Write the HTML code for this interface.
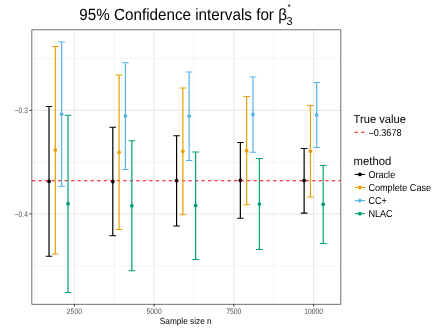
<!DOCTYPE html>
<html><head><meta charset="utf-8"><style>
html,body{margin:0;padding:0;background:#fff;}
svg{display:block;font-family:"Liberation Sans",Arial,sans-serif;text-rendering:geometricPrecision;}
</style></head><body>
<svg width="440" height="330" viewBox="0 0 440 330">
<rect width="440" height="330" fill="#fff"/>
<line x1="34.54" y1="29.7" x2="34.54" y2="304.2" stroke="#EBEBEB" stroke-width="0.55"/>
<line x1="114.26" y1="29.7" x2="114.26" y2="304.2" stroke="#EBEBEB" stroke-width="0.55"/>
<line x1="193.99" y1="29.7" x2="193.99" y2="304.2" stroke="#EBEBEB" stroke-width="0.55"/>
<line x1="273.71" y1="29.7" x2="273.71" y2="304.2" stroke="#EBEBEB" stroke-width="0.55"/>
<line x1="31.8" y1="58.65" x2="340.5" y2="58.65" stroke="#EBEBEB" stroke-width="0.55"/>
<line x1="31.8" y1="162.15" x2="340.5" y2="162.15" stroke="#EBEBEB" stroke-width="0.55"/>
<line x1="31.8" y1="265.65" x2="340.5" y2="265.65" stroke="#EBEBEB" stroke-width="0.55"/>
<line x1="74.40" y1="29.7" x2="74.40" y2="304.2" stroke="#EBEBEB" stroke-width="1.07"/>
<line x1="154.12" y1="29.7" x2="154.12" y2="304.2" stroke="#EBEBEB" stroke-width="1.07"/>
<line x1="233.85" y1="29.7" x2="233.85" y2="304.2" stroke="#EBEBEB" stroke-width="1.07"/>
<line x1="313.58" y1="29.7" x2="313.58" y2="304.2" stroke="#EBEBEB" stroke-width="1.07"/>
<line x1="31.8" y1="110.40" x2="340.5" y2="110.40" stroke="#EBEBEB" stroke-width="1.07"/>
<line x1="31.8" y1="213.90" x2="340.5" y2="213.90" stroke="#EBEBEB" stroke-width="1.07"/>
<circle cx="49.01" cy="181.30" r="1.9" fill="#000000"/>
<circle cx="55.31" cy="149.90" r="1.9" fill="#E69F00"/>
<circle cx="61.61" cy="114.20" r="1.9" fill="#56B4E9"/>
<circle cx="68.06" cy="203.70" r="1.9" fill="#009E73"/>
<circle cx="112.79" cy="181.50" r="1.9" fill="#000000"/>
<circle cx="119.09" cy="152.30" r="1.9" fill="#E69F00"/>
<circle cx="125.39" cy="116.00" r="1.9" fill="#56B4E9"/>
<circle cx="131.84" cy="205.80" r="1.9" fill="#009E73"/>
<circle cx="176.57" cy="180.70" r="1.9" fill="#000000"/>
<circle cx="182.87" cy="151.30" r="1.9" fill="#E69F00"/>
<circle cx="189.17" cy="116.20" r="1.9" fill="#56B4E9"/>
<circle cx="195.62" cy="205.50" r="1.9" fill="#009E73"/>
<circle cx="240.35" cy="180.30" r="1.9" fill="#000000"/>
<circle cx="246.65" cy="150.70" r="1.9" fill="#E69F00"/>
<circle cx="252.95" cy="114.50" r="1.9" fill="#56B4E9"/>
<circle cx="259.40" cy="204.10" r="1.9" fill="#009E73"/>
<circle cx="304.13" cy="180.50" r="1.9" fill="#000000"/>
<circle cx="310.43" cy="151.20" r="1.9" fill="#E69F00"/>
<circle cx="316.73" cy="114.90" r="1.9" fill="#56B4E9"/>
<circle cx="323.18" cy="204.30" r="1.9" fill="#009E73"/>
<line x1="32.0" y1="180.75" x2="340.5" y2="180.75" stroke="#FF0000" stroke-width="1.07" stroke-dasharray="3.259 3.259"/>
<path d="M49.01 106.50V256.30" stroke="#000000" stroke-width="1.2" fill="none"/>
<path d="M45.73 106.50H52.28M45.73 256.30H52.28" stroke="#000000" stroke-width="1.05" fill="none"/>
<path d="M55.31 46.50V253.90" stroke="#E69F00" stroke-width="1.2" fill="none"/>
<path d="M52.03 46.50H58.58M52.03 253.90H58.58" stroke="#E69F00" stroke-width="1.05" fill="none"/>
<path d="M61.61 42.00V186.30" stroke="#56B4E9" stroke-width="1.2" fill="none"/>
<path d="M58.33 42.00H64.88M58.33 186.30H64.88" stroke="#56B4E9" stroke-width="1.05" fill="none"/>
<path d="M68.06 115.20V292.40" stroke="#009E73" stroke-width="1.2" fill="none"/>
<path d="M64.78 115.20H71.33M64.78 292.40H71.33" stroke="#009E73" stroke-width="1.05" fill="none"/>
<path d="M112.79 127.30V235.80" stroke="#000000" stroke-width="1.2" fill="none"/>
<path d="M109.51 127.30H116.06M109.51 235.80H116.06" stroke="#000000" stroke-width="1.05" fill="none"/>
<path d="M119.09 75.00V229.50" stroke="#E69F00" stroke-width="1.2" fill="none"/>
<path d="M115.81 75.00H122.36M115.81 229.50H122.36" stroke="#E69F00" stroke-width="1.05" fill="none"/>
<path d="M125.39 62.70V169.50" stroke="#56B4E9" stroke-width="1.2" fill="none"/>
<path d="M122.11 62.70H128.66M122.11 169.50H128.66" stroke="#56B4E9" stroke-width="1.05" fill="none"/>
<path d="M131.84 140.80V270.70" stroke="#009E73" stroke-width="1.2" fill="none"/>
<path d="M128.56 140.80H135.11M128.56 270.70H135.11" stroke="#009E73" stroke-width="1.05" fill="none"/>
<path d="M176.57 135.80V226.00" stroke="#000000" stroke-width="1.2" fill="none"/>
<path d="M173.29 135.80H179.84M173.29 226.00H179.84" stroke="#000000" stroke-width="1.05" fill="none"/>
<path d="M182.87 88.00V214.80" stroke="#E69F00" stroke-width="1.2" fill="none"/>
<path d="M179.59 88.00H186.14M179.59 214.80H186.14" stroke="#E69F00" stroke-width="1.05" fill="none"/>
<path d="M189.17 71.90V160.40" stroke="#56B4E9" stroke-width="1.2" fill="none"/>
<path d="M185.89 71.90H192.44M185.89 160.40H192.44" stroke="#56B4E9" stroke-width="1.05" fill="none"/>
<path d="M195.62 151.90V259.50" stroke="#009E73" stroke-width="1.2" fill="none"/>
<path d="M192.34 151.90H198.89M192.34 259.50H198.89" stroke="#009E73" stroke-width="1.05" fill="none"/>
<path d="M240.35 142.40V218.30" stroke="#000000" stroke-width="1.2" fill="none"/>
<path d="M237.07 142.40H243.62M237.07 218.30H243.62" stroke="#000000" stroke-width="1.05" fill="none"/>
<path d="M246.65 96.50V204.70" stroke="#E69F00" stroke-width="1.2" fill="none"/>
<path d="M243.37 96.50H249.92M243.37 204.70H249.92" stroke="#E69F00" stroke-width="1.05" fill="none"/>
<path d="M252.95 77.00V152.30" stroke="#56B4E9" stroke-width="1.2" fill="none"/>
<path d="M249.67 77.00H256.22M249.67 152.30H256.22" stroke="#56B4E9" stroke-width="1.05" fill="none"/>
<path d="M259.40 158.40V249.40" stroke="#009E73" stroke-width="1.2" fill="none"/>
<path d="M256.12 158.40H262.67M256.12 249.40H262.67" stroke="#009E73" stroke-width="1.05" fill="none"/>
<path d="M304.13 148.40V213.10" stroke="#000000" stroke-width="1.2" fill="none"/>
<path d="M300.85 148.40H307.40M300.85 213.10H307.40" stroke="#000000" stroke-width="1.05" fill="none"/>
<path d="M310.43 105.50V197.00" stroke="#E69F00" stroke-width="1.2" fill="none"/>
<path d="M307.15 105.50H313.70M307.15 197.00H313.70" stroke="#E69F00" stroke-width="1.05" fill="none"/>
<path d="M316.73 82.40V147.50" stroke="#56B4E9" stroke-width="1.2" fill="none"/>
<path d="M313.45 82.40H320.00M313.45 147.50H320.00" stroke="#56B4E9" stroke-width="1.05" fill="none"/>
<path d="M323.18 165.40V243.50" stroke="#009E73" stroke-width="1.2" fill="none"/>
<path d="M319.90 165.40H326.45M319.90 243.50H326.45" stroke="#009E73" stroke-width="1.05" fill="none"/>
<path d="M31.8 29.75H340.75V304.35H31.8Z" fill="none" stroke="#3a3a3a" stroke-width="0.72"/>
<line x1="74.40" y1="304.2" x2="74.40" y2="306.60" stroke="#3a3a3a" stroke-width="1.07"/>
<line x1="154.12" y1="304.2" x2="154.12" y2="306.60" stroke="#3a3a3a" stroke-width="1.07"/>
<line x1="233.85" y1="304.2" x2="233.85" y2="306.60" stroke="#3a3a3a" stroke-width="1.07"/>
<line x1="313.58" y1="304.2" x2="313.58" y2="306.60" stroke="#3a3a3a" stroke-width="1.07"/>
<line x1="29.40" y1="110.40" x2="31.8" y2="110.40" stroke="#3a3a3a" stroke-width="1.07"/>
<line x1="29.40" y1="213.90" x2="31.8" y2="213.90" stroke="#3a3a3a" stroke-width="1.07"/>
<text transform="translate(74.40 313.60) scale(0.86 1.0)" font-size="7.9" fill="#4D4D4D" text-anchor="middle">2500</text>
<text transform="translate(154.12 313.60) scale(0.86 1.0)" font-size="7.9" fill="#4D4D4D" text-anchor="middle">5000</text>
<text transform="translate(233.85 313.60) scale(0.86 1.0)" font-size="7.9" fill="#4D4D4D" text-anchor="middle">7500</text>
<text transform="translate(313.58 313.60) scale(0.86 1.0)" font-size="7.9" fill="#4D4D4D" text-anchor="middle">10000</text>
<text transform="translate(28.00 113.00) scale(0.86 1.0)" font-size="7.9" fill="#4D4D4D" text-anchor="end">−0.3</text>
<text transform="translate(28.00 217.00) scale(0.86 1.0)" font-size="7.9" fill="#4D4D4D" text-anchor="end">−0.4</text>
<text transform="translate(185.70 323.50) scale(0.933 1.0)" font-size="8.85" fill="#000" text-anchor="middle">Sample size n</text>
<text transform="translate(79.3 19.6) scale(0.935 1)" font-size="16.3" fill="#000">95% Confidence intervals for β<tspan x="221.6" y="5.4" font-size="11.6">3</tspan><tspan x="222.7" y="-9.4" font-size="8.8">*</tspan></text>
<text transform="translate(353.60 122.50) scale(0.955 1.0)" font-size="11.7" fill="#000" text-anchor="start">True value</text>
<line x1="354.6" y1="132.3" x2="365.3" y2="132.3" stroke="#FF0000" stroke-width="1.07" stroke-dasharray="3.26 3.26"/>
<text transform="translate(368.40 136.00) scale(0.91 1.0)" font-size="10.0" fill="#000" text-anchor="start"><tspan dy="0.9">−</tspan><tspan dy="-0.9">0.3678</tspan></text>
<text transform="translate(353.60 164.60) scale(0.965 1.0)" font-size="11.7" fill="#000" text-anchor="start">method</text>
<line x1="354.7" y1="174.4" x2="365.1" y2="174.4" stroke="#000000" stroke-width="1.07"/>
<circle cx="359.9" cy="174.4" r="1.9" fill="#000000"/>
<text transform="translate(368.40 177.80) scale(0.91 1.0)" font-size="10.0" fill="#000" text-anchor="start">Oracle</text>
<line x1="354.7" y1="187.5" x2="365.1" y2="187.5" stroke="#E69F00" stroke-width="1.07"/>
<circle cx="359.9" cy="187.5" r="1.9" fill="#E69F00"/>
<text transform="translate(368.40 190.90) scale(0.91 1.0)" font-size="10.0" fill="#000" text-anchor="start">Complete Case</text>
<line x1="354.7" y1="200.6" x2="365.1" y2="200.6" stroke="#56B4E9" stroke-width="1.07"/>
<circle cx="359.9" cy="200.6" r="1.9" fill="#56B4E9"/>
<text transform="translate(368.40 204.00) scale(0.91 1.0)" font-size="10.0" fill="#000" text-anchor="start">CC+</text>
<line x1="354.7" y1="213.7" x2="365.1" y2="213.7" stroke="#009E73" stroke-width="1.07"/>
<circle cx="359.9" cy="213.7" r="1.9" fill="#009E73"/>
<text transform="translate(368.40 217.10) scale(0.91 1.0)" font-size="10.0" fill="#000" text-anchor="start">NLAC</text>
</svg>
</body></html>
